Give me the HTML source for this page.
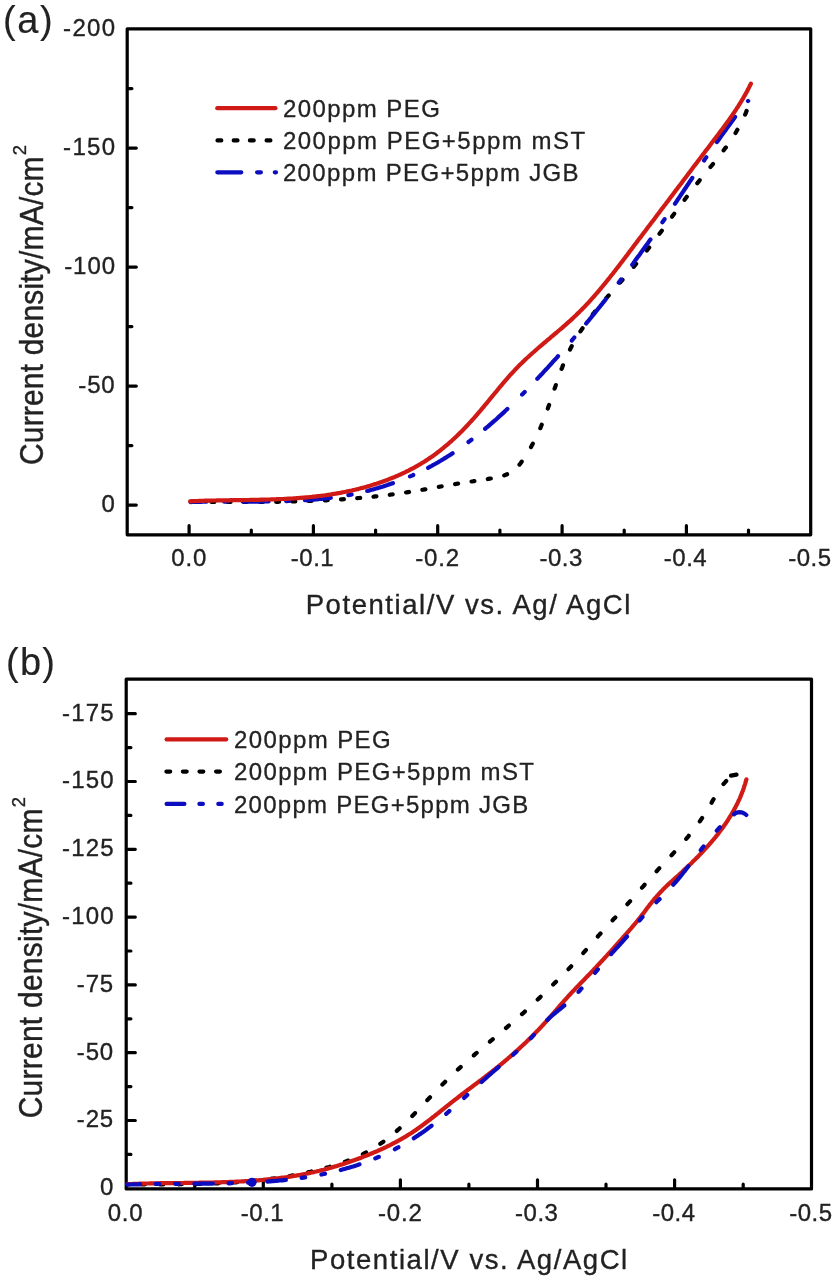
<!DOCTYPE html>
<html><head><meta charset="utf-8"><title>Figure</title>
<style>html,body{margin:0;padding:0;background:#fff;}svg{display:block;filter:blur(0.6px);}</style>
</head><body>
<svg width="834" height="1280" viewBox="0 0 834 1280">
<rect width="834" height="1280" fill="#fff"/>
<g font-family="'Liberation Sans', Arial, sans-serif" fill="#222" stroke="#222" stroke-width="0.35">
<text x="3.10" y="33.10" font-size="38" textLength="49.65" lengthAdjust="spacing" stroke-width="0.15">(a)</text>
<text x="101.50" y="512.00" font-size="24" textLength="12.86" lengthAdjust="spacing">0</text>
<text x="78.30" y="393.00" font-size="24" textLength="36.39" lengthAdjust="spacing">-50</text>
<text x="64.20" y="274.00" font-size="24" textLength="50.85" lengthAdjust="spacing">-100</text>
<text x="63.10" y="155.00" font-size="24" textLength="51.95" lengthAdjust="spacing">-150</text>
<text x="63.10" y="36.00" font-size="24" textLength="51.95" lengthAdjust="spacing">-200</text>
<text x="171.25" y="566.30" font-size="24" textLength="35.07" lengthAdjust="spacing">0.0</text>
<text x="290.87" y="566.30" font-size="24" textLength="42.86" lengthAdjust="spacing">-0.1</text>
<text x="415.19" y="566.30" font-size="24" textLength="43.86" lengthAdjust="spacing">-0.2</text>
<text x="539.51" y="566.30" font-size="24" textLength="42.86" lengthAdjust="spacing">-0.3</text>
<text x="663.83" y="566.30" font-size="24" textLength="42.86" lengthAdjust="spacing">-0.4</text>
<text x="788.15" y="566.30" font-size="24" textLength="42.86" lengthAdjust="spacing">-0.5</text>
<text x="305.70" y="614.40" font-size="27.5" textLength="324.62" lengthAdjust="spacing">Potential/V vs. Ag/ AgCl</text>
<text transform="translate(43.00,464.00) rotate(-90) scale(1,1.1)" x="-1.00" y="0" font-size="30" textLength="308.59" lengthAdjust="spacing">Current density/mA/cm</text>
<text transform="translate(25.70,154.20) rotate(-90)" x="-1.00" y="0" font-size="18.5" textLength="9.50" lengthAdjust="spacing">2</text>
<text x="6.10" y="674.60" font-size="38" textLength="48.75" lengthAdjust="spacing" stroke-width="0.15">(b)</text>
<text x="100.00" y="1195.20" font-size="24" textLength="12.86" lengthAdjust="spacing">0</text>
<text x="76.80" y="1127.40" font-size="24" textLength="36.39" lengthAdjust="spacing">-25</text>
<text x="76.80" y="1059.60" font-size="24" textLength="36.39" lengthAdjust="spacing">-50</text>
<text x="76.80" y="991.80" font-size="24" textLength="36.39" lengthAdjust="spacing">-75</text>
<text x="62.10" y="924.00" font-size="24" textLength="51.45" lengthAdjust="spacing">-100</text>
<text x="62.10" y="856.20" font-size="24" textLength="51.45" lengthAdjust="spacing">-125</text>
<text x="62.10" y="788.40" font-size="24" textLength="51.45" lengthAdjust="spacing">-150</text>
<text x="62.10" y="720.60" font-size="24" textLength="51.45" lengthAdjust="spacing">-175</text>
<text x="107.65" y="1220.50" font-size="24" textLength="35.07" lengthAdjust="spacing">0.0</text>
<text x="240.85" y="1220.50" font-size="24" textLength="42.86" lengthAdjust="spacing">-0.1</text>
<text x="377.95" y="1220.50" font-size="24" textLength="43.86" lengthAdjust="spacing">-0.2</text>
<text x="515.05" y="1220.50" font-size="24" textLength="42.86" lengthAdjust="spacing">-0.3</text>
<text x="652.15" y="1220.50" font-size="24" textLength="42.86" lengthAdjust="spacing">-0.4</text>
<text x="789.25" y="1220.50" font-size="24" textLength="42.86" lengthAdjust="spacing">-0.5</text>
<text x="310.00" y="1268.90" font-size="27.5" textLength="317.20" lengthAdjust="spacing">Potential/V vs. Ag/AgCl</text>
<text transform="translate(42.20,1117.30) rotate(-90) scale(1,1.1)" x="-1.00" y="0" font-size="30" textLength="309.89" lengthAdjust="spacing">Current density/mA/cm</text>
<text transform="translate(24.90,806.20) rotate(-90)" x="-1.00" y="0" font-size="18.5" textLength="9.50" lengthAdjust="spacing">2</text>
<text x="282.90" y="116.80" font-size="24" textLength="156.99" lengthAdjust="spacing" stroke-width="0.3">200ppm PEG</text>
<text x="282.90" y="148.90" font-size="24" textLength="302.17" lengthAdjust="spacing" stroke-width="0.3">200ppm PEG+5ppm mST</text>
<text x="282.90" y="180.90" font-size="24" textLength="295.68" lengthAdjust="spacing" stroke-width="0.3">200ppm PEG+5ppm JGB</text>
<text x="234.00" y="747.80" font-size="24" textLength="156.69" lengthAdjust="spacing" stroke-width="0.3">200ppm PEG</text>
<text x="234.00" y="780.30" font-size="24" textLength="299.97" lengthAdjust="spacing" stroke-width="0.3">200ppm PEG+5ppm mST</text>
<text x="234.00" y="812.80" font-size="24" textLength="294.18" lengthAdjust="spacing" stroke-width="0.3">200ppm PEG+5ppm JGB</text>
</g>
<rect x="127.2" y="28.8" width="683.5" height="506.0" fill="none" stroke="#000" stroke-width="3.2" stroke-linejoin="round"/>
<path d="M189.1,533.1999999999999V525.7M313.4,533.1999999999999V525.7M437.7,533.1999999999999V525.7M562.1,533.1999999999999V525.7M686.4,533.1999999999999V525.7M251.3,533.1999999999999V530.1M375.6,533.1999999999999V530.1M499.9,533.1999999999999V530.1M624.2,533.1999999999999V530.1M748.5,533.1999999999999V530.1" stroke="#000" stroke-width="3.2" stroke-linecap="round" fill="none"/>
<path d="M128.8,505.1H136.3M128.8,386.1H136.3M128.8,267.1H136.3M128.8,148.1H136.3M128.8,445.6H131.9M128.8,326.6H131.9M128.8,207.6H131.9M128.8,88.6H131.9" stroke="#000" stroke-width="3.2" stroke-linecap="round" fill="none"/>
<rect x="126.2" y="679.2" width="685.3" height="509.7" fill="none" stroke="#000" stroke-width="3.2" stroke-linejoin="round"/>
<path d="M263.3,1187.3000000000002V1179.8M400.4,1187.3000000000002V1179.8M537.5,1187.3000000000002V1179.8M674.6,1187.3000000000002V1179.8M194.8,1187.3000000000002V1184.2M331.9,1187.3000000000002V1184.2M468.9,1187.3000000000002V1184.2M606.0,1187.3000000000002V1184.2M743.2,1187.3000000000002V1184.2" stroke="#000" stroke-width="3.2" stroke-linecap="round" fill="none"/>
<path d="M127.8,1120.5H135.3M127.8,1052.7H135.3M127.8,984.9H135.3M127.8,917.1H135.3M127.8,849.3H135.3M127.8,781.5H135.3M127.8,713.7H135.3M127.8,1154.4H130.9M127.8,1086.6H130.9M127.8,1018.8H130.9M127.8,951.0H130.9M127.8,883.2H130.9M127.8,815.4H130.9M127.8,747.6H130.9" stroke="#000" stroke-width="3.2" stroke-linecap="round" fill="none"/>
<path d="M195.3,502.0L196.6,502.0L198.1,502.0L198.2,502.0M211.5,502.0L211.7,502.0L213.2,502.0L214.4,502.0M227.6,502.0L228.2,502.0L229.7,502.0L230.6,502.0M243.8,502.0L244.8,502.0L246.3,502.0L246.7,502.0M260.0,502.0L261.3,502.0L262.8,501.9L262.9,501.9M276.1,501.8L276.3,501.8L277.8,501.8L279.1,501.7M292.3,501.5L292.9,501.5L294.4,501.4L295.3,501.4M308.5,501.0L309.4,501.0L310.9,500.9L311.5,500.9M324.7,500.3L325.9,500.3L327.4,500.2L327.7,500.2M341.0,499.4L342.4,499.3L343.9,499.2M357.2,498.2L357.4,498.2L358.9,498.0L360.2,497.9M373.5,496.7L373.9,496.6L375.4,496.4L376.4,496.3M389.8,494.8L390.3,494.7L391.8,494.5L392.7,494.4M406.1,492.5L406.7,492.4L408.2,492.2L409.0,492.0M422.4,489.8L423.0,489.7L424.5,489.4L425.4,489.3M438.8,486.9L439.3,486.8L440.8,486.5L441.7,486.4M455.1,484.1L455.6,484.0L457.1,483.7L458.1,483.6M471.5,481.5L472.0,481.5L473.5,481.2L474.4,481.1M487.8,479.0L488.3,478.9L489.8,478.6L490.8,478.5M504.2,475.4L504.5,475.3L505.9,474.8L507.1,474.3M519.5,464.6L520.0,464.0L520.9,462.8L521.7,461.6M531.0,447.1L531.4,446.3L532.1,445.0L532.8,443.7M540.3,428.2L540.6,427.4L541.2,426.0L541.7,424.7M547.8,408.6L548.1,407.7L548.6,406.3L549.1,405.0M554.6,388.7L554.9,387.8L555.4,386.4L555.8,385.1M561.6,368.9L562.0,368.0L562.5,366.6L563.0,365.3M570.0,349.6L570.4,348.7L571.1,347.3L571.7,346.2M580.4,331.4L581.0,330.5L581.9,329.3L582.6,328.2M592.8,314.4L593.4,313.5L594.4,312.4L595.2,311.4M606.2,298.2L607.0,297.4L607.9,296.2L608.7,295.4M620.0,282.6L620.9,281.6L621.9,280.5L622.5,279.8M633.7,266.9L633.7,266.8L634.7,265.7L635.6,264.5L636.1,263.9M646.8,250.5L646.9,250.4L647.8,249.2L648.7,248.1L649.2,247.5M659.5,233.7L659.6,233.6L660.5,232.4L661.4,231.2L661.8,230.7M672.0,216.8L672.0,216.7L672.9,215.4L673.8,214.2L674.2,213.7M684.5,199.9L684.6,199.7L685.5,198.5L686.4,197.3L686.8,196.8M697.3,183.2L697.4,183.1L698.4,181.9L699.3,180.7L699.7,180.2M710.5,166.9L710.7,166.7L711.7,165.6L712.6,164.4L713.0,164.0M723.6,150.4L723.7,150.2L724.6,149.0L725.5,147.8L725.9,147.4M735.5,133.1L735.6,132.8L736.4,131.5L737.2,130.2L737.4,129.8M745.1,114.5L745.3,114.1L745.9,112.8L746.4,111.4L746.6,110.9" fill="none" stroke="#000" stroke-width="4.2" stroke-linecap="round" stroke-linejoin="round"/>
<path d="M190.6,502.1L192.1,502.0L193.6,502.0L195.1,501.9L196.6,501.9L198.1,501.8L199.6,501.8L201.1,501.8L202.6,501.7L204.1,501.7L205.6,501.7L206.5,501.7M224.0,501.6L225.2,501.6L226.7,501.6L227.3,501.6M242.7,501.6L243.2,501.6L244.7,501.6L246.2,501.6L247.7,501.6L249.2,501.6L250.7,501.6L252.2,501.6L253.7,501.6L255.3,501.6L256.8,501.6L258.3,501.6L259.8,501.6L261.3,501.5L262.8,501.5L264.3,501.5L265.8,501.5L267.3,501.5L268.6,501.5M286.1,501.1L286.8,501.1L288.3,501.0L289.4,501.0M304.9,500.2L306.3,500.1L307.8,500.0L309.3,499.9L310.8,499.8L312.3,499.7L313.8,499.6L315.3,499.4L316.8,499.3L318.3,499.2L319.8,499.0L321.3,498.9L322.8,498.7L324.3,498.6L325.8,498.4L327.3,498.2L328.8,498.0L330.3,497.9L330.8,497.8M348.4,495.1L349.6,494.9L351.1,494.6L351.6,494.5M367.1,491.0L367.2,491.0L368.7,490.6L370.1,490.2L371.6,489.8L373.0,489.4L374.5,489.0L375.9,488.6L377.4,488.2L378.8,487.8L380.3,487.3L381.7,486.9L383.1,486.5L384.6,486.0L386.0,485.5L387.4,485.1L388.8,484.6L390.3,484.1L391.7,483.6L392.9,483.2M410.0,476.4L411.3,475.9L412.6,475.3L413.2,475.0M428.1,467.8L428.9,467.4L430.2,466.7L431.5,466.0L432.8,465.2L434.1,464.5L435.4,463.8L436.8,463.0L438.1,462.3L439.4,461.5L440.6,460.8L441.9,460.0L443.2,459.2L444.5,458.4L445.8,457.6L447.1,456.8L448.3,456.0L449.6,455.2L450.9,454.4L452.1,453.6L452.6,453.3M468.5,442.0L469.3,441.4L470.5,440.5L471.5,439.8M485.1,428.8L485.8,428.3L486.9,427.3L488.1,426.4L489.2,425.4L490.3,424.4L491.5,423.4L492.6,422.4L493.7,421.4L494.9,420.5L496.0,419.5L497.1,418.5L498.2,417.4L499.3,416.4L500.5,415.4L501.6,414.4L502.7,413.4L503.8,412.4L504.9,411.3L506.0,410.3L507.1,409.3L507.4,408.9M522.0,394.6L522.1,394.6L523.2,393.5L524.2,392.4L524.7,391.9M537.3,378.8L537.8,378.3L538.8,377.2L539.8,376.1L540.8,375.0L541.9,373.9L542.9,372.8L543.9,371.7L544.9,370.6L545.9,369.5L547.0,368.4L548.0,367.3L549.0,366.2L550.0,365.1L551.0,364.0L552.0,362.9L553.0,361.7L554.0,360.6L555.1,359.5L556.1,358.4L557.1,357.3L558.0,356.2M571.8,340.5L571.9,340.3L572.9,339.2L573.9,338.0L574.3,337.5M586.2,323.4L586.5,323.1L587.4,321.9L588.4,320.8L589.4,319.6L590.3,318.4L591.3,317.3L592.2,316.1L593.2,314.9L594.1,313.8L595.1,312.6L596.0,311.4L597.0,310.3L597.9,309.1L598.8,307.9L599.8,306.8L600.7,305.6L601.7,304.4L602.6,303.2L603.5,302.1L604.5,300.9L605.4,299.7L605.8,299.2M618.7,282.6L619.2,281.9L620.1,280.7L621.0,279.5M632.2,264.7L632.8,263.9L633.7,262.6L634.6,261.4L635.4,260.2L636.3,259.0L637.2,257.8L638.1,256.6L639.0,255.4L639.9,254.2L640.8,252.9L641.6,251.7L642.5,250.5L643.4,249.3L644.3,248.1L645.2,246.8L646.0,245.6L646.9,244.4L647.8,243.2L648.7,241.9L649.5,240.7L650.4,239.5M662.4,222.3L662.5,222.2L663.3,221.0L664.2,219.8L664.6,219.1M675.0,203.7L675.1,203.6L676.0,202.3L676.8,201.1L677.6,199.8L678.5,198.6L679.3,197.3L680.1,196.1L681.0,194.8L681.8,193.6L682.7,192.3L683.5,191.1L684.3,189.8L685.2,188.6L686.0,187.3L686.8,186.1L687.7,184.8L688.5,183.6L689.3,182.3L690.2,181.1L691.0,179.8L691.9,178.6L692.3,177.9M704.1,160.5L704.5,159.9L705.3,158.7L706.2,157.4L706.3,157.3M716.9,142.1L717.4,141.4L718.3,140.2L719.2,139.0L720.0,137.8L720.9,136.5L721.8,135.3L722.7,134.1L723.6,132.9L724.4,131.7L725.3,130.5L726.2,129.2L727.1,128.0L728.0,126.8L728.9,125.6L729.7,124.4L730.6,123.2L731.5,121.9L732.4,120.7L733.3,119.5L734.2,118.3L735.0,117.1L735.1,116.9M748.0,101.1L748.1,101.0" fill="none" stroke="#0c0cc0" stroke-width="4.2" stroke-linecap="round" stroke-linejoin="round"/>
<path d="M190.1,501.3L191.6,501.2L193.1,501.1L194.6,501.1L196.1,501.0L197.6,501.0L199.1,500.9L200.6,500.9L202.1,500.8L203.6,500.8L205.1,500.7L206.6,500.7L208.1,500.6L209.6,500.6L211.1,500.6L212.6,500.5L214.1,500.5L215.6,500.5L217.1,500.4L218.6,500.4L220.1,500.4L221.6,500.4L223.1,500.3L224.6,500.3L226.1,500.3L227.6,500.3L229.1,500.3L230.7,500.2L232.2,500.2L233.7,500.2L235.2,500.2L236.7,500.1L238.2,500.1L239.7,500.1L241.2,500.1L242.7,500.1L244.2,500.0L245.7,500.0L247.2,500.0L248.7,500.0L250.2,499.9L251.7,499.9L253.2,499.9L254.7,499.9L256.2,499.8L257.7,499.8L259.2,499.8L260.7,499.7L262.2,499.7L263.7,499.7L265.2,499.6L266.7,499.6L268.2,499.5L269.7,499.5L271.3,499.4L272.8,499.4L274.3,499.3L275.8,499.3L277.3,499.2L278.8,499.2L280.3,499.1L281.8,499.0L283.3,499.0L284.8,498.9L286.3,498.8L287.8,498.7L289.3,498.6L290.8,498.6L292.3,498.5L293.8,498.4L295.3,498.3L296.8,498.2L298.3,498.1L299.8,497.9L301.3,497.8L302.8,497.7L304.3,497.6L305.8,497.4L307.3,497.3L308.8,497.2L310.3,497.0L311.8,496.9L313.3,496.7L314.8,496.6L316.3,496.4L317.7,496.2L319.2,496.0L320.7,495.8L322.2,495.7L323.7,495.5L325.2,495.3L326.7,495.0L328.2,494.8L329.7,494.6L331.2,494.4L332.6,494.1L334.1,493.9L335.6,493.7L337.1,493.4L338.6,493.1L340.1,492.9L341.5,492.6L343.0,492.3L344.5,492.0L346.0,491.7L347.4,491.4L348.9,491.1L350.4,490.8L351.8,490.5L353.3,490.1L354.8,489.8L356.2,489.4L357.7,489.1L359.2,488.7L360.6,488.3L362.1,487.9L363.5,487.6L365.0,487.2L366.4,486.8L367.9,486.3L369.3,485.9L370.7,485.5L372.2,485.0L373.6,484.6L375.1,484.1L376.5,483.7L377.9,483.2L379.3,482.7L380.8,482.2L382.2,481.7L383.6,481.2L385.0,480.7L386.4,480.2L387.8,479.7L389.2,479.1L390.6,478.6L392.0,478.0L393.4,477.4L394.8,476.9L396.2,476.3L397.6,475.7L398.9,475.1L400.3,474.5L401.7,473.8L403.0,473.2L404.4,472.6L405.8,471.9L407.1,471.2L408.5,470.6L409.8,469.9L411.1,469.2L412.5,468.5L413.8,467.8L415.1,467.1L416.4,466.3L417.7,465.6L419.0,464.8L420.3,464.1L421.6,463.3L422.9,462.5L424.2,461.7L425.4,460.9L426.7,460.1L428.0,459.3L429.2,458.4L430.5,457.6L431.7,456.7L432.9,455.9L434.2,455.0L435.4,454.1L436.6,453.2L437.8,452.3L439.0,451.4L440.2,450.5L441.3,449.5L442.5,448.6L443.7,447.6L444.8,446.7L446.0,445.7L447.1,444.8L448.3,443.8L449.4,442.8L450.5,441.8L451.7,440.8L452.8,439.8L453.9,438.8L455.0,437.7L456.1,436.7L457.2,435.7L458.2,434.6L459.3,433.6L460.4,432.5L461.5,431.4L462.5,430.4L463.6,429.3L464.6,428.2L465.7,427.1L466.7,426.0L467.7,425.0L468.7,423.9L469.8,422.7L470.8,421.6L471.8,420.5L472.8,419.4L473.8,418.3L474.8,417.2L475.8,416.0L476.8,414.9L477.8,413.7L478.7,412.6L479.7,411.5L480.7,410.3L481.6,409.2L482.6,408.0L483.6,406.9L484.5,405.7L485.5,404.5L486.5,403.4L487.4,402.2L488.4,401.1L489.3,399.9L490.3,398.7L491.2,397.6L492.2,396.4L493.1,395.2L494.1,394.1L495.0,392.9L496.0,391.8L497.0,390.6L497.9,389.4L498.9,388.3L499.8,387.1L500.8,386.0L501.8,384.8L502.7,383.7L503.7,382.5L504.7,381.4L505.7,380.2L506.7,379.1L507.6,378.0L508.6,376.8L509.6,375.7L510.6,374.6L511.7,373.5L512.7,372.4L513.7,371.3L514.7,370.2L515.7,369.1L516.8,368.0L517.8,366.9L518.9,365.8L519.9,364.8L521.0,363.7L522.1,362.7L523.2,361.6L524.3,360.6L525.4,359.5L526.4,358.5L527.6,357.5L528.7,356.5L529.8,355.5L530.9,354.5L532.0,353.5L533.1,352.5L534.3,351.5L535.4,350.5L536.5,349.5L537.7,348.5L538.8,347.5L539.9,346.5L541.1,345.6L542.2,344.6L543.4,343.6L544.5,342.6L545.7,341.7L546.8,340.7L548.0,339.7L549.1,338.8L550.3,337.8L551.4,336.8L552.6,335.9L553.7,334.9L554.9,333.9L556.0,333.0L557.2,332.0L558.3,331.0L559.5,330.0L560.6,329.1L561.8,328.1L562.9,327.1L564.0,326.1L565.2,325.1L566.3,324.1L567.4,323.1L568.5,322.1L569.7,321.1L570.8,320.1L571.9,319.1L573.0,318.1L574.1,317.0L575.2,316.0L576.3,315.0L577.3,313.9L578.4,312.9L579.5,311.8L580.6,310.8L581.6,309.7L582.7,308.6L583.7,307.5L584.8,306.5L585.8,305.4L586.8,304.3L587.9,303.2L588.9,302.1L589.9,301.0L590.9,299.8L591.9,298.7L592.9,297.6L593.9,296.5L594.9,295.3L595.9,294.2L596.9,293.1L597.9,291.9L598.8,290.8L599.8,289.6L600.8,288.5L601.7,287.3L602.7,286.2L603.6,285.0L604.6,283.9L605.6,282.7L606.5,281.5L607.4,280.4L608.4,279.2L609.3,278.0L610.3,276.8L611.2,275.6L612.1,274.5L613.1,273.3L614.0,272.1L614.9,270.9L615.8,269.7L616.7,268.5L617.7,267.3L618.6,266.2L619.5,265.0L620.4,263.8L621.3,262.6L622.2,261.4L623.1,260.2L624.0,259.0L625.0,257.8L625.9,256.6L626.8,255.4L627.7,254.2L628.6,253.0L629.5,251.8L630.4,250.6L631.3,249.4L632.2,248.2L633.1,247.0L634.0,245.8L634.9,244.6L635.8,243.4L636.7,242.2L637.6,241.0L638.5,239.8L639.4,238.6L640.4,237.4L641.3,236.2L642.2,235.0L643.1,233.8L644.0,232.6L644.9,231.4L645.8,230.2L646.7,229.0L647.6,227.8L648.5,226.6L649.4,225.4L650.3,224.2L651.2,223.0L652.1,221.8L653.1,220.6L654.0,219.4L654.9,218.2L655.8,217.0L656.7,215.8L657.6,214.6L658.5,213.4L659.4,212.2L660.3,211.0L661.2,209.8L662.1,208.6L663.0,207.4L663.9,206.2L664.8,205.0L665.8,203.8L666.7,202.6L667.6,201.4L668.5,200.2L669.4,199.0L670.3,197.8L671.2,196.6L672.1,195.4L673.0,194.2L673.9,193.0L674.8,191.8L675.7,190.6L676.6,189.4L677.5,188.2L678.4,187.0L679.3,185.8L680.3,184.6L681.2,183.4L682.1,182.2L683.0,181.0L683.9,179.8L684.8,178.6L685.7,177.4L686.6,176.2L687.5,175.0L688.4,173.8L689.3,172.6L690.2,171.4L691.1,170.2L692.0,169.0L692.9,167.8L693.8,166.6L694.7,165.4L695.7,164.2L696.6,163.0L697.5,161.8L698.4,160.6L699.3,159.4L700.2,158.2L701.1,157.0L702.0,155.8L702.9,154.6L703.8,153.4L704.7,152.2L705.6,151.0L706.5,149.8L707.5,148.6L708.4,147.4L709.3,146.2L710.2,145.0L711.1,143.8L712.0,142.6L712.9,141.4L713.8,140.2L714.7,139.0L715.7,137.8L716.6,136.6L717.5,135.4L718.4,134.2L719.3,133.0L720.2,131.8L721.1,130.6L722.0,129.4L722.9,128.2L723.8,127.0L724.7,125.8L725.6,124.6L726.5,123.3L727.3,122.1L728.2,120.9L729.1,119.7L730.0,118.5L730.8,117.2L731.7,116.0L732.5,114.8L733.4,113.5L734.2,112.3L735.1,111.0L735.9,109.8L736.7,108.5L737.6,107.3L738.4,106.0L739.2,104.7L740.0,103.4L740.8,102.2L741.5,100.9L742.3,99.6L743.1,98.3L743.8,97.0L744.6,95.7L745.3,94.4L746.1,93.1L746.8,91.7L747.5,90.4L748.2,89.1L748.9,87.7L749.5,86.4L750.2,85.1L750.9,83.7" fill="none" stroke="#d01a16" stroke-width="4.2" stroke-linecap="round" stroke-linejoin="round"/>
<path d="M141.5,1184.4L142.5,1184.4L144.1,1184.4L144.8,1184.4M160.0,1184.4L160.6,1184.4L162.1,1184.4L163.3,1184.4M178.4,1184.3L178.7,1184.3L180.2,1184.2L181.7,1184.2L181.8,1184.2M196.9,1184.0L198.2,1183.9L199.7,1183.9L200.3,1183.9M215.4,1183.4L216.3,1183.3L217.8,1183.3L218.8,1183.2M233.9,1182.4L234.3,1182.4L235.8,1182.3L237.3,1182.2M252.5,1180.9L253.8,1180.8L255.3,1180.6L255.8,1180.6M271.0,1178.8L271.8,1178.7L273.3,1178.5L274.4,1178.3M289.5,1176.0L289.6,1176.0L291.1,1175.7L292.6,1175.4L292.9,1175.4M308.0,1172.3L308.8,1172.1L310.3,1171.8L311.4,1171.5M326.5,1167.6L327.8,1167.3L329.2,1166.9L329.8,1166.7M344.8,1161.8L345.0,1161.8L346.4,1161.3L347.8,1160.7L348.1,1160.6M362.9,1154.2L363.0,1154.1L364.3,1153.4L365.7,1152.7L366.1,1152.5M380.3,1143.8L381.1,1143.3L382.3,1142.4L383.4,1141.7M396.8,1130.9L397.6,1130.2L398.7,1129.2L399.7,1128.3M412.3,1116.0L412.7,1115.6L413.7,1114.5L414.8,1113.4L415.0,1113.1M427.3,1100.2L428.2,1099.2L429.3,1098.1L430.0,1097.3M442.4,1084.6L442.9,1084.1L444.0,1083.0L445.1,1082.0L445.2,1081.8M457.9,1069.6L458.1,1069.4L459.2,1068.4L460.3,1067.4L460.7,1067.0M473.7,1055.4L473.8,1055.4L474.9,1054.4L476.0,1053.4L476.7,1052.9M489.9,1041.6L491.0,1040.7L492.1,1039.7L492.8,1039.2M506.0,1028.0L507.1,1027.1L508.2,1026.1L508.9,1025.5M522.0,1014.1L522.9,1013.3L524.1,1012.3L524.9,1011.5M537.7,999.5L538.4,998.9L539.5,997.9L540.6,996.8L540.6,996.8M553.2,984.5L553.5,984.2L554.5,983.1L555.6,982.1L556.0,981.7M568.5,969.2L569.4,968.2L570.5,967.1L571.2,966.3M583.3,953.1L583.6,952.7L584.6,951.5L585.6,950.4L585.9,950.1M597.8,936.5L598.5,935.7L599.5,934.6L600.5,933.5M612.6,920.3L612.7,920.1L613.7,919.0L614.8,917.9L615.3,917.4M627.4,904.2L628.0,903.5L629.0,902.4L630.0,901.3L630.1,901.2M642.0,887.7L643.0,886.6L644.0,885.5L644.6,884.7M656.6,871.2L657.0,870.8L658.0,869.7L659.0,868.6L659.3,868.3M671.5,855.2L672.4,854.3L673.4,853.2L674.2,852.3M686.2,838.9L686.4,838.6L687.4,837.5L688.4,836.3L688.7,835.8M699.8,821.4L700.2,820.8L701.1,819.5L701.9,818.3L702.1,818.1M711.6,802.7L712.2,801.6L712.9,800.3L713.6,799.2M723.5,784.0L723.6,783.9L724.6,782.8L725.6,781.7L726.2,781.1" fill="none" stroke="#000" stroke-width="4.2" stroke-linecap="round" stroke-linejoin="round"/>
<path d="M127.6,1184.2L129.1,1184.1L130.6,1184.0L132.1,1184.0L133.6,1183.9L135.1,1183.9L136.6,1183.8L138.1,1183.8L139.6,1183.7L141.1,1183.7L142.6,1183.6L144.1,1183.6L145.6,1183.5L147.1,1183.5L148.6,1183.5L150.1,1183.4L151.6,1183.4L153.1,1183.4L154.7,1183.3L156.2,1183.3L157.7,1183.3L159.2,1183.3L160.7,1183.2L162.2,1183.2L163.7,1183.2L165.2,1183.2L166.7,1183.1L168.2,1183.1L169.7,1183.1L171.2,1183.1L172.7,1183.1L174.2,1183.1L175.7,1183.0L177.2,1183.0L178.7,1183.0L180.2,1183.0L181.8,1183.0L183.3,1183.0L184.8,1182.9L186.3,1182.9L187.8,1182.9L189.3,1182.9L190.8,1182.9L192.3,1182.8L193.8,1182.8L195.3,1182.8L196.8,1182.8L198.3,1182.8L199.8,1182.7L201.3,1182.7L202.8,1182.7L204.3,1182.7L205.8,1182.6L207.3,1182.6L208.9,1182.6L210.4,1182.5L211.9,1182.5L213.4,1182.5L214.9,1182.4L216.4,1182.4L217.9,1182.4L219.4,1182.3L220.9,1182.3L222.4,1182.2L223.9,1182.2L225.4,1182.1L226.9,1182.1L228.4,1182.0L229.9,1181.9L231.4,1181.9L232.9,1181.8L234.4,1181.8L235.9,1181.7L237.4,1181.6L238.9,1181.5L240.4,1181.5L242.0,1181.4L243.5,1181.3L245.0,1181.2L246.5,1181.1L248.0,1181.0L249.5,1180.9L251.0,1180.8L252.5,1180.7L254.0,1180.6L255.5,1180.5L257.0,1180.4L258.5,1180.3L260.0,1180.1L261.5,1180.0L263.0,1179.9L264.5,1179.7L266.0,1179.6L267.5,1179.4L269.0,1179.3L270.5,1179.1L272.0,1179.0L273.5,1178.8L275.0,1178.6L276.5,1178.4L277.9,1178.3L279.4,1178.1L280.9,1177.9L282.4,1177.7L283.9,1177.5L285.4,1177.3L286.9,1177.1L288.4,1176.8L289.9,1176.6L291.4,1176.4L292.9,1176.1L294.3,1175.9L295.8,1175.7L297.3,1175.4L298.8,1175.1L300.3,1174.9L301.8,1174.6L303.2,1174.3L304.7,1174.0L306.2,1173.7L307.7,1173.4L309.1,1173.1L310.6,1172.8L312.1,1172.5L313.6,1172.2L315.0,1171.8L316.5,1171.5L317.9,1171.1L319.4,1170.8L320.9,1170.4L322.3,1170.0L323.8,1169.7L325.2,1169.3L326.7,1168.9L328.2,1168.5L329.6,1168.1L331.1,1167.7L332.5,1167.3L333.9,1166.8L335.4,1166.4L336.8,1166.0L338.3,1165.5L339.7,1165.1L341.1,1164.6L342.6,1164.2L344.0,1163.7L345.4,1163.2L346.9,1162.8L348.3,1162.3L349.7,1161.8L351.1,1161.3L352.6,1160.8L354.0,1160.3L355.4,1159.8L356.8,1159.3L358.2,1158.7L359.6,1158.2L361.0,1157.7L362.4,1157.1L363.8,1156.6L365.2,1156.1L366.7,1155.5L368.0,1154.9L369.4,1154.4L370.8,1153.8L372.2,1153.2L373.6,1152.6L375.0,1152.1L376.4,1151.5L377.8,1150.9L379.1,1150.2L380.5,1149.6L381.9,1149.0L383.3,1148.4L384.6,1147.7L386.0,1147.1L387.3,1146.4L388.7,1145.8L390.0,1145.1L391.4,1144.4L392.7,1143.7L394.1,1143.0L395.4,1142.3L396.7,1141.6L398.0,1140.9L399.4,1140.2L400.7,1139.4L402.0,1138.7L403.3,1137.9L404.6,1137.2L405.9,1136.4L407.1,1135.6L408.4,1134.8L409.7,1134.0L411.0,1133.2L412.2,1132.4L413.5,1131.5L414.7,1130.7L416.0,1129.9L417.2,1129.0L418.4,1128.1L419.7,1127.3L420.9,1126.4L422.1,1125.5L423.3,1124.6L424.5,1123.7L425.7,1122.8L426.9,1121.9L428.1,1121.0L429.3,1120.1L430.5,1119.2L431.7,1118.2L432.9,1117.3L434.1,1116.4L435.3,1115.4L436.4,1114.5L437.6,1113.6L438.8,1112.6L440.0,1111.7L441.2,1110.7L442.3,1109.8L443.5,1108.9L444.7,1107.9L445.9,1107.0L447.0,1106.0L448.2,1105.1L449.4,1104.2L450.6,1103.2L451.7,1102.3L452.9,1101.4L454.1,1100.4L455.3,1099.5L456.5,1098.6L457.7,1097.7L458.9,1096.7L460.1,1095.8L461.3,1094.9L462.4,1094.0L463.6,1093.1L464.8,1092.2L466.0,1091.3L467.2,1090.3L468.4,1089.4L469.7,1088.5L470.9,1087.6L472.1,1086.7L473.3,1085.8L474.5,1084.9L475.7,1084.0L476.9,1083.1L478.1,1082.2L479.3,1081.3L480.5,1080.4L481.7,1079.5L482.9,1078.5L484.1,1077.6L485.3,1076.7L486.5,1075.8L487.6,1074.9L488.8,1074.0L490.0,1073.0L491.2,1072.1L492.4,1071.2L493.6,1070.3L494.8,1069.3L495.9,1068.4L497.1,1067.5L498.3,1066.5L499.5,1065.6L500.6,1064.6L501.8,1063.7L503.0,1062.7L504.1,1061.7L505.3,1060.8L506.4,1059.8L507.6,1058.8L508.7,1057.8L509.9,1056.9L511.0,1055.9L512.1,1054.9L513.3,1053.9L514.4,1052.9L515.5,1051.9L516.6,1050.9L517.8,1049.9L518.9,1048.9L520.0,1047.8L521.1,1046.8L522.2,1045.8L523.3,1044.8L524.4,1043.7L525.5,1042.7L526.6,1041.7L527.6,1040.6L528.7,1039.6L529.8,1038.5L530.9,1037.5L531.9,1036.4L533.0,1035.3L534.1,1034.3L535.1,1033.2L536.2,1032.1L537.2,1031.0L538.3,1030.0L539.3,1028.9L540.3,1027.8L541.4,1026.7L542.4,1025.6L543.4,1024.5L544.4,1023.4L545.5,1022.2L546.5,1021.1L547.5,1020.0L548.5,1018.9L549.5,1017.7L550.5,1016.6L551.5,1015.5L552.4,1014.3L553.4,1013.2L554.4,1012.1L555.4,1010.9L556.4,1009.8L557.4,1008.6L558.3,1007.5L559.3,1006.4L560.3,1005.2L561.3,1004.1L562.3,1003.0L563.3,1001.8L564.3,1000.7L565.3,999.6L566.3,998.5L567.3,997.4L568.3,996.2L569.4,995.1L570.4,994.0L571.4,992.9L572.4,991.8L573.5,990.7L574.5,989.7L575.5,988.6L576.6,987.5L577.6,986.4L578.7,985.3L579.7,984.2L580.8,983.1L581.8,982.0L582.9,981.0L583.9,979.9L585.0,978.8L586.0,977.7L587.0,976.6L588.1,975.6L589.1,974.5L590.2,973.4L591.2,972.3L592.3,971.2L593.3,970.1L594.3,969.0L595.4,967.9L596.4,966.8L597.4,965.7L598.5,964.6L599.5,963.5L600.5,962.4L601.5,961.3L602.6,960.2L603.6,959.1L604.6,958.0L605.6,956.9L606.6,955.8L607.6,954.7L608.7,953.6L609.7,952.4L610.7,951.3L611.7,950.2L612.7,949.1L613.7,948.0L614.7,946.8L615.7,945.7L616.7,944.6L617.7,943.5L618.7,942.4L619.7,941.2L620.7,940.1L621.7,939.0L622.7,937.9L623.7,936.7L624.7,935.6L625.7,934.5L626.7,933.3L627.7,932.2L628.7,931.1L629.7,929.9L630.7,928.8L631.7,927.7L632.6,926.5L633.6,925.4L634.6,924.2L635.6,923.1L636.5,921.9L637.5,920.8L638.4,919.6L639.4,918.4L640.3,917.2L641.2,916.0L642.1,914.9L643.1,913.7L644.0,912.5L644.9,911.3L645.8,910.0L646.7,908.8L647.6,907.6L648.5,906.4L649.4,905.2L650.3,904.1L651.3,902.9L652.2,901.7L653.2,900.5L654.1,899.4L655.1,898.2L656.1,897.1L657.1,895.9L658.1,894.8L659.1,893.7L660.1,892.6L661.1,891.5L662.2,890.4L663.2,889.3L664.3,888.3L665.3,887.2L666.4,886.2L667.5,885.1L668.6,884.1L669.7,883.1L670.8,882.1L672.0,881.1L673.1,880.1L674.2,879.1L675.3,878.0L676.4,877.0L677.6,876.0L678.7,875.0L679.8,874.0L680.9,873.0L682.0,872.0L683.1,870.9L684.2,869.9L685.3,868.9L686.4,867.9L687.5,866.8L688.6,865.8L689.7,864.7L690.8,863.7L691.9,862.7L692.9,861.6L694.0,860.5L695.1,859.5L696.1,858.4L697.2,857.4L698.3,856.3L699.3,855.2L700.4,854.1L701.4,853.0L702.4,851.9L703.5,850.8L704.5,849.7L705.5,848.6L706.5,847.5L707.5,846.4L708.5,845.3L709.5,844.2L710.5,843.0L711.5,841.9L712.5,840.7L713.5,839.6L714.4,838.4L715.4,837.3L716.3,836.1L717.3,834.9L718.2,833.7L719.1,832.5L720.0,831.3L720.9,830.1L721.8,828.9L722.7,827.7L723.6,826.5L724.4,825.2L725.3,824.0L726.1,822.8L727.0,821.5L727.8,820.3L728.6,819.0L729.4,817.7L730.2,816.4L731.0,815.1L731.8,813.9L732.5,812.5L733.3,811.2L734.0,809.9L734.7,808.6L735.4,807.3L736.1,805.9L736.8,804.6L737.5,803.2L738.1,801.9L738.7,800.5L739.4,799.1L740.0,797.8L740.6,796.4L741.1,795.0L741.7,793.6L742.2,792.2L742.8,790.8L743.3,789.4L743.8,787.9L744.2,786.5L744.7,785.1L745.2,783.6L745.6,782.2L746.0,780.7L746.4,779.3" fill="none" stroke="#d01a16" stroke-width="4.2" stroke-linecap="round" stroke-linejoin="round"/>
<path d="M127.5,1184.7L129.0,1184.6L130.5,1184.5L132.0,1184.5L133.6,1184.4L135.1,1184.4L136.6,1184.3L138.1,1184.3L139.6,1184.3L140.1,1184.2M155.7,1183.9L156.1,1183.9L157.6,1183.9L159.1,1183.9L159.2,1183.9M175.2,1183.8L175.7,1183.8L177.2,1183.8L178.7,1183.8L178.8,1183.8M194.4,1183.7L195.3,1183.7L196.8,1183.7L198.3,1183.7L199.8,1183.7L201.3,1183.7L202.8,1183.7L204.3,1183.6L205.8,1183.6L207.3,1183.6L208.8,1183.6L210.3,1183.6L211.8,1183.6L212.9,1183.6M228.5,1183.3L229.9,1183.3L231.4,1183.2L232.0,1183.2M248.1,1182.7L249.5,1182.6L251.0,1182.6L251.6,1182.5M267.3,1181.6L267.5,1181.6L269.0,1181.4L270.5,1181.3L272.0,1181.2L273.5,1181.1L275.0,1181.0L276.5,1180.8L278.0,1180.7L279.5,1180.5L281.0,1180.4L282.5,1180.3L284.0,1180.1L285.5,1179.9L285.9,1179.9M301.6,1177.9L301.9,1177.9L303.4,1177.6L304.9,1177.4L305.2,1177.4M321.4,1174.5L322.7,1174.2L324.2,1173.9L325.0,1173.7M340.8,1170.0L341.7,1169.7L343.2,1169.3L344.6,1168.9L346.1,1168.5L347.5,1168.1L349.0,1167.7L350.4,1167.2L351.9,1166.8L353.3,1166.4L354.7,1165.9L356.2,1165.4L357.6,1165.0L359.0,1164.5L359.5,1164.3M375.3,1158.4L375.9,1158.1L377.3,1157.5L378.7,1156.9L378.9,1156.9M394.9,1149.2L395.0,1149.1L396.3,1148.4L397.6,1147.7L398.4,1147.3M413.8,1138.2L414.5,1137.7L415.8,1136.9L417.0,1136.1L418.3,1135.3L419.5,1134.4L420.8,1133.6L422.0,1132.7L423.2,1131.9L424.5,1131.0L425.7,1130.1L426.9,1129.2L428.1,1128.3L429.3,1127.4L430.5,1126.5L431.6,1125.7M446.2,1113.8L446.9,1113.2L448.0,1112.2L449.2,1111.3L449.4,1111.0M464.1,1097.9L464.9,1097.2L466.0,1096.2L467.1,1095.2L467.3,1094.9M481.6,1082.0L482.7,1081.0L483.8,1080.0L485.0,1079.0L486.1,1078.0L487.2,1077.0L488.3,1076.0L489.5,1075.0L490.6,1074.0L491.7,1073.0L492.9,1072.0L494.0,1071.0L495.1,1070.0L496.3,1069.1L497.4,1068.1L498.5,1067.1L498.6,1067.0M513.1,1054.7L513.4,1054.4L514.6,1053.4L515.7,1052.4L516.4,1051.9M530.8,1038.2L531.0,1038.0L532.1,1036.9L533.1,1035.8L533.9,1034.9M547.3,1020.1L548.3,1019.1L549.4,1018.0L550.5,1017.0L551.6,1016.0L552.8,1015.0L553.9,1014.0L555.1,1013.1L556.2,1012.1L557.4,1011.2L558.6,1010.2L559.7,1009.3L560.9,1008.3L562.1,1007.4L563.2,1006.4L564.4,1005.5L564.4,1005.4M578.4,991.9L578.5,991.9L579.5,990.8L580.5,989.6L581.5,988.6M595.0,972.9L595.2,972.5L596.2,971.4L597.2,970.2L597.9,969.4M611.1,954.1L611.9,953.1L613.0,952.0L614.0,950.9L615.0,949.8L616.0,948.7L617.0,947.6L618.1,946.5L619.1,945.4L620.1,944.3L621.1,943.2L622.1,942.1L623.1,940.9L624.1,939.8L625.1,938.7L626.1,937.5L627.0,936.5M639.5,920.5L640.1,919.8L641.1,918.6L642.0,917.5L642.5,917.0M656.4,902.2L656.5,902.1L657.5,901.1L658.6,900.0L659.6,899.1M673.2,884.8L674.2,883.7L675.2,882.6L676.2,881.5L677.2,880.3L678.2,879.2L679.1,878.0L680.1,876.8L681.0,875.7L682.0,874.5L682.9,873.3L683.8,872.1L684.8,871.0L685.7,869.8L686.6,868.6L687.5,867.4L688.4,866.2M700.7,850.1L701.2,849.4L702.1,848.2L703.1,847.0L703.5,846.5M716.8,830.6L717.6,829.7L718.6,828.6L719.6,827.5L719.9,827.2M734.1,814.2L735.2,813.4L736.6,812.8L738.0,812.3L739.5,812.2L741.0,812.3L742.5,812.6L743.9,813.3L745.1,814.0L746.3,815.0" fill="none" stroke="#0c0cc0" stroke-width="4.2" stroke-linecap="round" stroke-linejoin="round"/>
<circle cx="252" cy="1182.3" r="4.6" fill="#0c0cc0"/>
<path d="M731,775.6L736.5,774.6" stroke="#000" stroke-width="4.2" stroke-linecap="round" fill="none"/>
<path d="M217.3,108.2H275.4" stroke="#d01a16" stroke-width="4.2" stroke-linecap="round" fill="none"/>
<path d="M217.5,140.4H221.3M233.7,140.4H237.5M249.9,140.4H253.7M266.6,140.4H270.4" stroke="#000" stroke-width="4.2" stroke-linecap="round" fill="none"/>
<path d="M217.3,172.3H241.3M257.1,172.3H260.9M274.8,172.3H276.0" stroke="#0c0cc0" stroke-width="4.2" stroke-linecap="round" fill="none"/>
<path d="M166.6,739.4H226.2" stroke="#d01a16" stroke-width="4.2" stroke-linecap="round" fill="none"/>
<path d="M166.4,771.6H170.2M182.9,771.6H186.7M199.5,771.6H203.3M216.1,771.6H219.9" stroke="#000" stroke-width="4.2" stroke-linecap="round" fill="none"/>
<path d="M166.6,803.9H184.4M199.4,803.9H202.9M218.3,803.9H221.7" stroke="#0c0cc0" stroke-width="4.2" stroke-linecap="round" fill="none"/>
</svg>
</body></html>
